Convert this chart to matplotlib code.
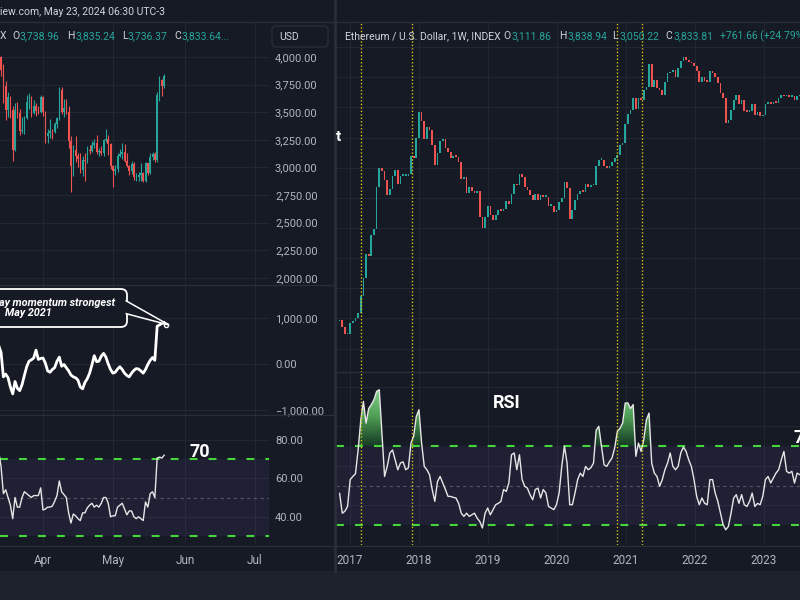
import numpy as np
import pandas as pd
import matplotlib
matplotlib.use('Agg')
import matplotlib.pyplot as plt
import matplotlib.dates as mdates
from matplotlib.patches import FancyBboxPatch, Polygon, Rectangle
from matplotlib.path import Path
from matplotlib.colors import LinearSegmentedColormap
from matplotlib.ticker import FuncFormatter, NullLocator, FixedLocator

plt.rcParams['font.family'] = ['Roboto', 'DejaVu Sans']

# ---- left: daily ETH, Mar-May 2024 ----
daily_start = '2024-03-12'
daily_close = [3980, 4000, 3880, 3740, 3520, 3640, 3520, 3160, 3520, 3490,
               3330, 3330, 3450, 3590, 3590, 3490, 3560, 3510, 3500, 3640,
               3500, 3280, 3310, 3330, 3320, 3390, 3450, 3700, 3500, 3540,
               3500, 3240, 3010, 3160, 3100, 3080, 2980, 3070, 3060, 3160,
               3150, 3200, 3220, 3140, 3150, 3130, 3250, 3260, 3210, 3010,
               2970, 2990, 3100, 3120, 3140, 3060, 3010, 2970, 3030, 2910,
               2910, 2930, 2950, 2880, 3040, 2950, 3090, 3120, 3070, 3660,
               3790, 3740, 3830]
daily_first_open = 4060
daily_high = [4090, 4080, 4010, 3940, 3780, 3680, 3650, 3560, 3580, 3590,
              3530, 3460, 3470, 3660, 3670, 3650, 3610, 3580, 3560, 3660,
              3650, 3510, 3350, 3440, 3350, 3410, 3460, 3730, 3730, 3620,
              3620, 3560, 3280, 3200, 3280, 3130, 3130, 3100, 3130, 3190,
              3200, 3240, 3260, 3290, 3180, 3190, 3260, 3350, 3290, 3220,
              3020, 3020, 3130, 3170, 3220, 3210, 3130, 3020, 3060, 3050,
              2950, 2960, 3040, 2960, 3050, 3040, 3130, 3140, 3140, 3680,
              3830, 3800, 3850]
daily_low = [3930, 3950, 3830, 3580, 3430, 3460, 3450, 3060, 3150, 3450,
             3290, 3310, 3300, 3440, 3530, 3460, 3480, 3470, 3480, 3490,
             3470, 3220, 3220, 3270, 3260, 3310, 3360, 3430, 3480, 3460,
             3480, 3180, 2780, 2920, 3050, 3000, 2950, 2920, 2880, 3040,
             3120, 3140, 3180, 3120, 3100, 3110, 3100, 3230, 3110, 2990,
             2820, 2930, 2960, 3090, 3080, 3050, 3000, 2930, 2940, 2890,
             2880, 2880, 2880, 2870, 2870, 2930, 2940, 3070, 3050, 3050,
             3600, 3650, 3720]
daily_mom = [450, 400, 250, -280, -220, -300, -500, -650, -380, -530,
             -580, -450, -250, -60, 60, 90, 130, 300, 100, 120,
             130, 20, -150, -180, -120, -80, 60, 150, -50, -10,
             -80, -150, -240, -280, -300, -350, -500, -540, -400, -320,
             -200, -20, 180, 50, 60, 170, 230, 150, 0, -120,
             -200, -180, -110, -60, -120, -200, -250, -280, -200, -140,
             -100, -110, -150, -200, -120, -10, 80, 140, 80, 820,
             850, 880, 900]
daily_rsi = [75, 74, 66, 52, 54, 50, 46, 39, 50, 45,
             45, 50, 53, 52, 51, 50, 51, 51, 51, 55,
             43.5, 44, 45, 45, 45.5, 48, 51, 58.6, 53, 51.5,
             50, 42, 36.7, 41.4, 40.5, 39, 38, 42, 42, 44.6,
             46, 47, 45, 46, 45, 47, 50, 50, 47, 40,
             40.5, 40.5, 45, 46, 47, 44, 41, 43, 43, 40,
             39, 40, 39, 38, 47.7, 45, 52, 53, 50, 70.5,
             71, 70.5, 72]
daily_price_ticks = [2000, 2250, 2500, 2750, 3000, 3250, 3500, 3750, 4000]
daily_mom_ticks = [-1000, 0, 1000]
rsi_ticks = [40, 60, 80]

# ---- right: ETH/USD, 2-week steps, Nov 2016 - Jul 2023 ----
weekly_start = '2016-11-07'
weekly_close = [10.9, 9.2, 7.8, 7.9,
                10.2, 10.6, 11.4, 12.8, 19.0, 28.5, 50.0, 47.0, 77.0, 88.0,
                230, 360, 330, 270, 190, 220, 300, 340, 250, 300, 300, 300,
                310, 470, 450, 720,
                1300, 1050, 690, 920, 860, 610, 380, 510, 660, 690, 570, 520,
                450, 470, 460, 410, 280, 290, 200, 230, 210, 200, 210, 115,
                90, 115,
                150, 120, 107, 122, 135, 134, 140, 166, 155, 197, 250, 240,
                310, 290, 230, 215, 190, 170, 195, 170, 190, 185, 185, 150,
                150, 130,
                135, 165, 180, 260, 225, 110, 135, 170, 195, 210, 205, 245,
                230, 240, 240, 370, 430, 430, 370, 355, 375, 410, 450, 480,
                600, 640, 980,
                1230, 1370, 1780, 1400, 1800, 1690, 2130, 2300, 3900, 2300,
                2700, 2250, 2150, 1900, 2600, 3150, 3230, 3400, 2900, 3590,
                4170, 4600, 4300, 4100, 3950, 3700,
                3300, 2600, 2900, 2650, 2600, 3300, 3200, 2900, 2500, 2000,
                1800, 1000, 1070, 1350, 1700, 1900, 1550, 1700, 1320, 1300,
                1310, 1570, 1200, 1280, 1170, 1200,
                1550, 1600, 1550, 1630, 1600, 1780, 1900, 1850, 1890, 1820,
                1870, 1720, 1860, 1900, 1870]
weekly_first_open = 10.5
weekly_rsi = [46, 36, 37, 39.4, 53, 54.6, 56, 68, 83, 92.6,
              81.6, 89, 91, 93.5, 97.7, 98.5, 76.6, 54.6, 59.7, 66.5,
              68, 63, 58, 61.4, 62, 58, 59, 71.5, 75, 85,
              88.4, 71.5, 59.7, 58, 55.5, 48, 42, 52, 54.6, 51.3,
              48, 44.5, 44.5, 44, 43.7, 41, 36, 34.4, 36, 34.4,
              35.2, 36, 33.5, 31.8, 28.5, 36, 38.6, 35.2, 37.8, 40.3,
              41, 42, 48, 47, 51.3, 65.6, 66.5, 58, 65.6, 53,
              49.6, 48.7, 45.4, 42.8, 48, 48.7, 43.7, 48, 46.2, 39.4,
              38.6, 37.8, 40.3, 46.2, 59.7, 70, 61.4, 40.3, 40.3, 46.2,
              53, 56.3, 54.6, 59.7, 58, 59, 61.4, 78, 80, 70,
              60.5, 59.7, 62, 64, 69, 77.4, 79, 81.6, 91.8, 91.8,
              89, 91, 64.8, 71.5, 67.3, 73.2, 83.3, 86.7, 61.4, 56.3,
              54.6, 49.6, 53, 58, 61.4, 66.5, 59.7, 58, 59.7, 66.5,
              69.5, 67.3, 63, 59.7, 53, 44.5, 40.3, 43.7, 41, 40.3,
              53, 53, 46.2, 42, 36, 30.2, 27.6, 29.3, 36, 43.7,
              45.4, 41, 45.4, 40.3, 39.4, 42, 46.2, 39.4, 41, 40.3,
              44.5, 53, 54.6, 51.3, 53.8, 56.3, 58, 63, 67.3, 57.2,
              56.3, 57.2, 51.3, 56.3, 55.5, 55.8]
weekly_grid_levels = [5.6, 11.25, 22.5, 45, 90, 180, 360, 720, 1440, 2880, 5760]
event_dates = ['2017-02-27', '2017-11-27', '2020-11-16', '2021-03-29']

BG = '#161a25'
GRID = '#222633'
SEP = '#2a2e39'
TXT = '#b2b5be'
WHITE = '#d1d4dc'
UP = '#26a69a'
DN = '#ef5350'
LIME = '#45d63c'
W, H = 800, 600


def box(x0, y0, x1, y1):
    return [x0 / W, 1 - y1 / H, (x1 - x0) / W, (y1 - y0) / H]


def style(ax):
    ax.set_facecolor(BG)
    for s in ax.spines.values():
        s.set_visible(False)
    ax.tick_params(length=0, colors=TXT, labelsize=8)
    ax.grid(True, color=GRID, lw=0.8)
    ax.set_axisbelow(True)


def rsi_lines(ax):
    ax.axhspan(30, 70, color='#7e57c2', alpha=0.1, lw=0)
    ax.axhline(70, color=LIME, ls=(0, (3.8, 5.3)), lw=1.5)
    ax.axhline(30, color=LIME, ls=(0, (3.8, 5.3)), lw=1.5)
    ax.axhline(50, color='#787b86', ls=(0, (3, 3)), lw=0.8, alpha=0.6)


fig = plt.figure(figsize=(8, 6), dpi=100, facecolor=BG)

# ---------------- left panel ----------------
axL1 = fig.add_axes(box(0, 22, 269, 285))
axL2 = fig.add_axes(box(0, 285, 269, 415), sharex=axL1)
axL3 = fig.add_axes(box(0, 415, 269, 545), sharex=axL1)
for ax in (axL1, axL2, axL3):
    style(ax)
    ax.yaxis.tick_right()
    ax.tick_params(axis='y', pad=4.3, labelsize=8)

dd = mdates.date2num(pd.date_range(daily_start, periods=len(daily_close), freq='D'))
c = np.array(daily_close, float)
o = np.r_[daily_first_open, c[:-1]]
col = np.where(c >= o, UP, DN)
axL1.vlines(dd, daily_low, daily_high, colors=col, lw=0.8)
axL1.bar(dd, np.maximum(np.abs(c - o), 6), bottom=np.minimum(o, c), width=0.65, color=col)
axL1.set_ylim(1935, 4317)
axL1.yaxis.set_major_locator(FixedLocator(daily_price_ticks))
axL1.yaxis.set_major_formatter(FuncFormatter(lambda v, p: f'{v:,.2f}'))

axL2.plot(dd, daily_mom, color='white', lw=2)
axL2.set_ylim(-1109, 1717)
axL2.yaxis.set_major_locator(FixedLocator(daily_mom_ticks))
axL2.yaxis.set_major_formatter(FuncFormatter(lambda v, p: f'{v:,.2f}'.replace('-', '\u2212')))

rsi_lines(axL3)
axL3.plot(dd, daily_rsi, color='#e6e6e6', lw=1)
axL3.set_ylim(25.3, 92.9)
axL3.yaxis.set_major_locator(FixedLocator(rsi_ticks))
axL3.yaxis.set_major_formatter(FuncFormatter(lambda v, p: f'{v:.2f}'))

d0 = mdates.date2num(pd.Timestamp(daily_start))
axL3.set_xlim(d0 + 1.545, d0 + 117.0)
axL3.xaxis.set_major_locator(mdates.MonthLocator(bymonth=[4, 5, 6, 7]))
axL3.xaxis.set_major_formatter(mdates.DateFormatter('%b'))
axL3.tick_params(axis='x', pad=6.5, labelsize=8.5, labelcolor=TXT)
axL1.tick_params(axis='x', labelbottom=False)
axL2.tick_params(axis='x', labelbottom=False)

# ---------------- right panel ----------------
axR1 = fig.add_axes(box(336, 22, 800, 372))
axR2 = fig.add_axes(box(336, 372, 800, 545), sharex=axR1)
for ax in (axR1, axR2):
    style(ax)
    ax.tick_params(axis='y', labelleft=False, labelright=False)

dw = mdates.date2num(pd.date_range(weekly_start, periods=len(weekly_close), freq='14D'))
cw = np.array(weekly_close, float)
ow = np.r_[weekly_first_open, cw[:-1]]
colw = np.where(cw >= ow, UP, DN)
lo = np.minimum(ow, cw)
hi = np.maximum(np.maximum(ow, cw), lo * 1.04)
axR1.bar(dw, hi - lo, bottom=lo, width=9, color=colw)
axR1.set_yscale('log')
axR1.set_ylim(3.28, 10250)
axR1.yaxis.set_major_locator(FixedLocator(weekly_grid_levels))
axR1.yaxis.set_minor_locator(NullLocator())
axR1.tick_params(axis='x', labelbottom=False)

rw = np.array(weekly_rsi, float)
rsi_lines(axR2)
fb = axR2.fill_between(dw, 70, rw, where=rw > 70, interpolate=True, color='none', lw=0)
clip = Path.make_compound_path(*fb.get_paths())
cmap = LinearSegmentedColormap.from_list('g', ['#163a24', '#4f9f55', '#8fd694'])
im = axR2.imshow(np.linspace(0, 1, 256).reshape(-1, 1), extent=[dw[0], dw[-1], 70, 100],
                 origin='lower', cmap=cmap, aspect='auto', zorder=1.5)
im.set_clip_path(clip, axR2.transData)
axR2.plot(dw, rw, color='#e6e6e6', lw=1, zorder=3)
axR2.set_ylim(19.9, 107.5)
axR2.yaxis.set_major_locator(FixedLocator([20, 40, 60, 80, 100]))

for ds in event_dates:
    for ax in (axR1, axR2):
        ax.axvline(mdates.date2num(pd.Timestamp(ds)), color='#d9c21a', ls=(0, (1, 1.5)), lw=1.0, zorder=4)

y0 = mdates.date2num(pd.Timestamp('2017-01-01'))
axR2.set_xlim(y0 + (336 - 350) / 69 * 365.25, y0 + (800 - 350) / 69 * 365.25)
axR2.xaxis.set_major_locator(mdates.YearLocator())
axR2.xaxis.set_major_formatter(mdates.DateFormatter('%Y'))
axR2.tick_params(axis='x', pad=6.5, labelsize=8.5, labelcolor=TXT)

# ---------------- overlay: frame, legends, notes ----------------
ov = fig.add_axes([0, 0, 1, 1])
ov.set_xlim(0, W)
ov.set_ylim(H, 0)
ov.axis('off')

ov.add_patch(Rectangle((0, 571), W, 29, color='#1e222d', lw=0))
ov.plot([0, W], [22, 22], color=SEP, lw=1)
ov.plot([0, 333], [285, 285], color=SEP, lw=1)
ov.plot([0, 333], [415, 415], color=SEP, lw=1)
ov.plot([336, W], [372, 372], color=SEP, lw=1)
ov.plot([0, W], [546, 546], color=SEP, lw=0.8)
ov.plot([334.5, 334.5], [0, 571], color=SEP, lw=2)

ov.text(0, 12, 'iew.com, May 23, 2024 06:30 UTC-3', color=WHITE, fontsize=7.5, va='center')

left_legend = [('X', 0, WHITE), ('O', 12, WHITE), ('3,738.96', 20, UP), ('H', 67, WHITE),
               ('3,835.24', 75, UP), ('L', 122, WHITE), ('3,736.37', 128, UP),
               ('C', 174, WHITE), ('3,833.64...', 181, UP)]
for s, x, cc in left_legend:
    ov.text(x, 36, s, color=cc, fontsize=7.5, va='center')

right_legend = [('Ethereum / U.S. Dollar, 1W, INDEX', 345, WHITE), ('O', 503, WHITE),
                ('3,111.86', 511, UP), ('H', 559, WHITE), ('3,838.94', 567, UP),
                ('L', 612, WHITE), ('3,050.22', 620, UP), ('C', 665, WHITE),
                ('3,833.81', 673, UP), ('+761.66 (+24.79%)', 720, UP)]
for s, x, cc in right_legend:
    ov.text(x, 36, s, color=cc, fontsize=7.5, va='center')

ov.add_patch(FancyBboxPatch((272, 26), 56, 21, boxstyle='round,pad=0,rounding_size=4',
                            fc=BG, ec=SEP, lw=1))
ov.text(279, 36.5, 'USD', color=WHITE, fontsize=7.5, va='center')

# callout
ov.add_patch(FancyBboxPatch((-20, 289), 147, 38, boxstyle='round,pad=0,rounding_size=6',
                            fc=BG, ec='white', lw=1.3))
ov.add_patch(Polygon([(125.5, 300.5), (169, 325), (125.5, 313.5)], closed=False,
                     fc=BG, ec='white', lw=1.1))
ov.plot(166, 325, 'o', mfc='none', mec='white', ms=3, mew=1)
ov.text(-1, 303, 'ay momentum strongest', color='white', fontsize=7.8,
        fontweight='bold', fontstyle='italic', va='center')
ov.text(5, 313.5, 'May 2021', color='white', fontsize=7.8,
        fontweight='bold', fontstyle='italic', va='center')

ov.text(200, 452, '70', color='white', fontsize=13, fontweight='bold', ha='center', va='center')
ov.text(507, 403, 'RSI', color='white', fontsize=13, fontweight='bold', ha='center', va='center')
ov.text(793, 438, '70', color='white', fontsize=13, fontweight='bold', ha='left', va='center')
ov.text(336, 137, 't', color='white', fontsize=11, fontweight='bold', ha='left', va='center')

fig.savefig('out.png', dpi=100, facecolor=BG)
